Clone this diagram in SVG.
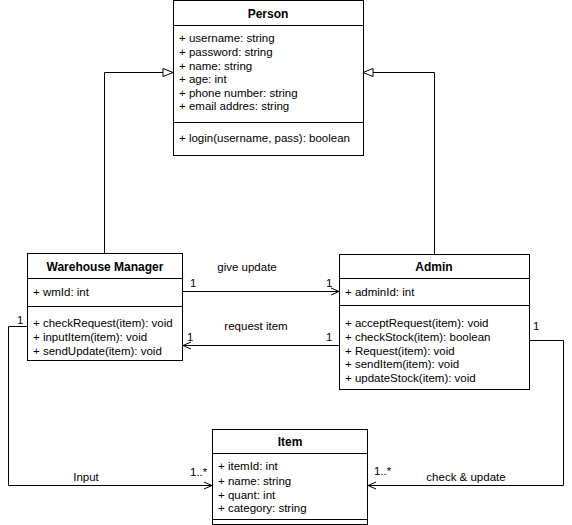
<svg xmlns="http://www.w3.org/2000/svg" width="572" height="525" viewBox="0 0 572 525">
<defs>
<style>
text{font-family:"Liberation Sans",Arial,sans-serif;font-size:11.5px;fill:#000}
.t{font-weight:bold;font-size:12px;text-anchor:middle}
.box{fill:#fff;stroke:#000;stroke-width:1}
.ln{fill:none;stroke:#000;stroke-width:1}
.lbl{text-anchor:middle}
</style>
<marker id="tri" markerWidth="12" markerHeight="10" refX="11" refY="5" orient="auto" markerUnits="userSpaceOnUse">
<path d="M1,1 L11,5 L1,9 Z" fill="#fff" stroke="#000"/>
</marker>
<marker id="open" markerWidth="10" markerHeight="10" refX="9" refY="5" orient="auto" markerUnits="userSpaceOnUse">
<path d="M1,1.5 L9,5 L1,8.5" fill="none" stroke="#000"/>
</marker>
</defs>
<rect width="572" height="525" fill="#fff"/>
<g id="connectors">
<path class="ln" d="M104.5,253 V72.5 H173" marker-end="url(#tri)"/>
<path class="ln" d="M434.5,254 V72.5 H363" marker-end="url(#tri)"/>
<path class="ln" d="M183,291.5 H339" marker-end="url(#open)"/>
<text x="247" y="271" class="lbl">give update</text>
<text x="190" y="287">1</text>
<text x="326" y="287">1</text>
<path class="ln" d="M339,345.5 H183" marker-end="url(#open)"/>
<text x="256" y="330" class="lbl">request item</text>
<text x="187" y="341">1</text>
<text x="326" y="341">1</text>
<path class="ln" d="M27,326.5 H8.5 V485.5 H212" marker-end="url(#open)"/>
<text x="17" y="324">1</text>
<text x="86" y="481" class="lbl">Input</text>
<text x="190" y="476">1..*</text>
<path class="ln" d="M530,340.5 H563.5 V485.5 H368" marker-end="url(#open)"/>
<text x="533" y="330">1</text>
<text x="374" y="475">1..*</text>
<text x="466" y="481" class="lbl">check &amp; update</text>
</g>
<g id="person">
<rect class="box" x="173.5" y="0.5" width="190" height="155"/>
<line class="ln" x1="173.5" y1="25.5" x2="363.5" y2="25.5"/>
<line class="ln" x1="173.5" y1="122.5" x2="363.5" y2="122.5"/>
<text x="268" y="18" class="t">Person</text>
<text x="179" y="42">+ username: string</text>
<text x="179" y="56">+ password: string</text>
<text x="179" y="70">+ name: string</text>
<text x="179" y="83">+ age: int</text>
<text x="179" y="97">+ phone number: string</text>
<text x="179" y="110">+ email addres: string</text>
<text x="179" y="142">+ login(username, pass): boolean</text>
</g>
<g id="warehouse-manager">
<rect class="box" x="27.5" y="253.5" width="155" height="107"/>
<line class="ln" x1="27.5" y1="278.5" x2="182.5" y2="278.5"/>
<line class="ln" x1="27.5" y1="306.5" x2="182.5" y2="306.5"/>
<text x="105" y="271" class="t">Warehouse Manager</text>
<text x="33" y="296">+ wmId: int</text>
<text x="33" y="327">+ checkRequest(item): void</text>
<text x="33" y="341">+ inputItem(item): void</text>
<text x="33" y="355">+ sendUpdate(item): void</text>
</g>
<g id="admin">
<rect class="box" x="339.5" y="254.5" width="190" height="135"/>
<line class="ln" x1="339.5" y1="278.5" x2="529.5" y2="278.5"/>
<line class="ln" x1="339.5" y1="305.5" x2="529.5" y2="305.5"/>
<text x="434" y="271" class="t">Admin</text>
<text x="345" y="296">+ adminId: int</text>
<text x="345" y="327">+ acceptRequest(item): void</text>
<text x="345" y="341">+ checkStock(item): boolean</text>
<text x="345" y="355">+ Request(item): void</text>
<text x="345" y="368">+ sendItem(item): void</text>
<text x="345" y="382">+ updateStock(item): void</text>
</g>
<g id="item">
<rect class="box" x="212.5" y="429.5" width="155" height="95"/>
<line class="ln" x1="212.5" y1="453.5" x2="367.5" y2="453.5"/>
<line class="ln" x1="212.5" y1="519.5" x2="367.5" y2="519.5"/>
<text x="290" y="446" class="t">Item</text>
<text x="218" y="470">+ itemId: int</text>
<text x="218" y="485">+ name: string</text>
<text x="218" y="499">+ quant: int</text>
<text x="218" y="512">+ category: string</text>
</g>
</svg>
